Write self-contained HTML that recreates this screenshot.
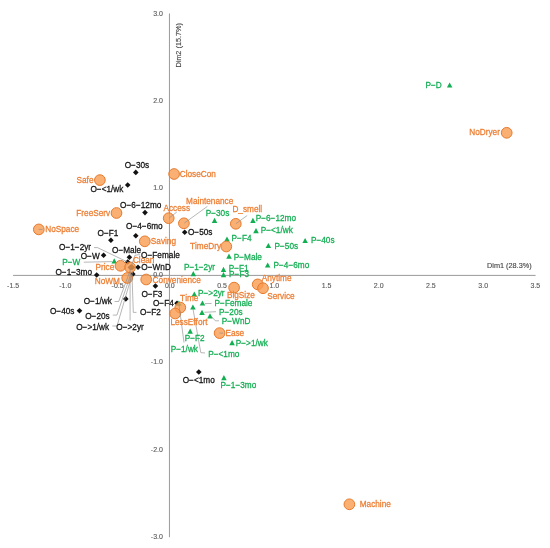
<!DOCTYPE html>
<html lang="en"><head><meta charset="utf-8"><title>MCA biplot</title>
<style>
html,body{margin:0;padding:0;background:#fff;}
body{width:550px;height:548px;overflow:hidden;}
svg{display:block;font-family:"Liberation Sans",Arial,Helvetica,sans-serif;}
.lab{font-size:8.3px;stroke-width:0.25px;font-kerning:none;}
.o{fill:#ED7D31}.g{fill:#12AE52}.k{fill:#111111}
text.o{stroke:#ED7D31}text.g{stroke:#12AE52}text.k{stroke:#111}
.tick{font-size:7px;fill:#595959;stroke:#595959;stroke-width:0.12px;}
.ttl{font-size:7.3px;fill:#444;stroke:#444;stroke-width:0.12px;}
.ax{stroke:#9a9a9a;stroke-width:1;fill:none;}
.ld{stroke:#8e8e8e;stroke-width:0.75;fill:none;stroke-opacity:0.85;}
.c{fill:rgb(249,155,80);fill-opacity:0.8;stroke:#E67A2C;stroke-width:1;}
</style></head><body>
<svg width="550" height="548" viewBox="0 0 550 548">
<rect width="550" height="548" fill="#fff"/>
<line class="ax" x1="13.1" y1="275.4" x2="535.6" y2="275.4"/>
<line class="ax" x1="169.45" y1="13.5" x2="169.45" y2="537.2"/>
<text class="tick" x="13.1" y="287.5" text-anchor="middle">-1.5</text>
<text class="tick" x="65.3" y="287.5" text-anchor="middle">-1.0</text>
<text class="tick" x="117.6" y="287.5" text-anchor="middle">-0.5</text>
<text class="tick" x="169.8" y="287.5" text-anchor="middle">0.0</text>
<text class="tick" x="222.0" y="287.5" text-anchor="middle">0.5</text>
<text class="tick" x="274.3" y="287.5" text-anchor="middle">1.0</text>
<text class="tick" x="326.5" y="287.5" text-anchor="middle">1.5</text>
<text class="tick" x="378.7" y="287.5" text-anchor="middle">2.0</text>
<text class="tick" x="430.9" y="287.5" text-anchor="middle">2.5</text>
<text class="tick" x="483.2" y="287.5" text-anchor="middle">3.0</text>
<text class="tick" x="535.4" y="287.5" text-anchor="middle">3.5</text>
<text class="tick" x="162.9" y="15.6" text-anchor="end">3.0</text>
<text class="tick" x="162.9" y="102.8" text-anchor="end">2.0</text>
<text class="tick" x="162.9" y="190.0" text-anchor="end">1.0</text>
<text class="tick" x="162.9" y="277.2" text-anchor="end">0.0</text>
<text class="tick" x="162.9" y="364.4" text-anchor="end">-1.0</text>
<text class="tick" x="162.9" y="451.6" text-anchor="end">-2.0</text>
<text class="tick" x="162.9" y="538.8" text-anchor="end">-3.0</text>
<text class="ttl" x="487" y="267.6">Dim1 (28.3%)</text>
<text class="ttl" transform="translate(181.3,67.6) rotate(-90)">Dim2 (15.7%)</text>
<path class="k" d="M135.8 169.6l2.8 2.8l-2.8 2.8l-2.8 -2.8z"/>
<path class="k" d="M127.7 182.2l2.8 2.8l-2.8 2.8l-2.8 -2.8z"/>
<path class="k" d="M145.0 209.8l2.8 2.8l-2.8 2.8l-2.8 -2.8z"/>
<path class="k" d="M135.8 233.0l2.8 2.8l-2.8 2.8l-2.8 -2.8z"/>
<path class="k" d="M110.9 237.4l2.8 2.8l-2.8 2.8l-2.8 -2.8z"/>
<path class="k" d="M184.7 229.4l2.8 2.8l-2.8 2.8l-2.8 -2.8z"/>
<path class="k" d="M103.6 252.4l2.8 2.8l-2.8 2.8l-2.8 -2.8z"/>
<path class="k" d="M129.4 254.4l2.8 2.8l-2.8 2.8l-2.8 -2.8z"/>
<path class="k" d="M132.3 264.6l2.8 2.8l-2.8 2.8l-2.8 -2.8z"/>
<path class="k" d="M138.0 264.5l2.8 2.8l-2.8 2.8l-2.8 -2.8z"/>
<path class="k" d="M96.7 272.2l2.8 2.8l-2.8 2.8l-2.8 -2.8z"/>
<path class="k" d="M127.7 259.2l2.8 2.8l-2.8 2.8l-2.8 -2.8z"/>
<path class="k" d="M155.4 283.2l2.8 2.8l-2.8 2.8l-2.8 -2.8z"/>
<path class="k" d="M177.0 300.4l2.8 2.8l-2.8 2.8l-2.8 -2.8z"/>
<path class="k" d="M125.8 296.1l2.8 2.8l-2.8 2.8l-2.8 -2.8z"/>
<path class="k" d="M79.5 308.0l2.8 2.8l-2.8 2.8l-2.8 -2.8z"/>
<path class="k" d="M131.2 264.2l2.8 2.8l-2.8 2.8l-2.8 -2.8z"/>
<path class="k" d="M131.2 264.4l2.8 2.8l-2.8 2.8l-2.8 -2.8z"/>
<path class="k" d="M130.4 264.6l2.8 2.8l-2.8 2.8l-2.8 -2.8z"/>
<path class="k" d="M132.8 271.3l2.8 2.8l-2.8 2.8l-2.8 -2.8z"/>
<path class="k" d="M198.8 369.2l2.8 2.8l-2.8 2.8l-2.8 -2.8z"/>
<path class="g" d="M449.6 82.4L452.4 87.6L446.9 87.6z"/>
<path class="g" d="M214.6 217.7L217.3 222.9L211.8 222.9z"/>
<path class="g" d="M252.9 217.7L255.7 222.9L250.2 222.9z"/>
<path class="g" d="M256.0 228.0L258.8 233.2L253.2 233.2z"/>
<path class="g" d="M227.0 236.4L229.8 241.6L224.2 241.6z"/>
<path class="g" d="M268.4 242.9L271.1 248.1L265.6 248.1z"/>
<path class="g" d="M305.1 237.9L307.9 243.1L302.4 243.1z"/>
<path class="g" d="M229.0 253.6L231.8 258.8L226.2 258.8z"/>
<path class="g" d="M193.3 271.1L196.1 276.3L190.6 276.3z"/>
<path class="g" d="M223.5 266.7L226.2 271.9L220.8 271.9z"/>
<path class="g" d="M223.5 272.0L226.2 277.2L220.8 277.2z"/>
<path class="g" d="M267.7 262.4L270.4 267.6L264.9 267.6z"/>
<path class="g" d="M114.2 258.2L117.0 263.4L111.5 263.4z"/>
<path class="g" d="M194.3 291.4L197.1 296.6L191.6 296.6z"/>
<path class="g" d="M202.4 300.4L205.2 305.6L199.7 305.6z"/>
<path class="g" d="M202.0 309.8L204.8 315.0L199.2 315.0z"/>
<path class="g" d="M210.0 313.2L212.8 318.4L207.2 318.4z"/>
<path class="g" d="M190.2 328.6L192.9 333.8L187.4 333.8z"/>
<path class="g" d="M178.9 300.6L181.7 305.8L176.2 305.8z"/>
<path class="g" d="M192.9 304.4L195.7 309.6L190.2 309.6z"/>
<path class="g" d="M232.1 340.0L234.8 345.2L229.3 345.2z"/>
<path class="g" d="M223.9 375.0L226.7 380.2L221.2 380.2z"/>
<circle class="c" cx="99.9" cy="180.1" r="5.35"/>
<circle class="c" cx="116.5" cy="213.0" r="5.35"/>
<circle class="c" cx="38.8" cy="229.4" r="5.35"/>
<circle class="c" cx="174.1" cy="174.0" r="5.35"/>
<circle class="c" cx="168.7" cy="218.2" r="5.35"/>
<circle class="c" cx="183.9" cy="223.3" r="5.35"/>
<circle class="c" cx="235.8" cy="223.8" r="5.35"/>
<circle class="c" cx="144.8" cy="241.3" r="5.35"/>
<circle class="c" cx="226.3" cy="246.5" r="5.35"/>
<circle class="c" cx="120.5" cy="265.8" r="5.35"/>
<circle class="c" cx="130.1" cy="267.4" r="5.35"/>
<circle class="c" cx="127.2" cy="278.0" r="5.35"/>
<circle class="c" cx="146.2" cy="279.5" r="5.35"/>
<circle class="c" cx="257.7" cy="284.4" r="5.35"/>
<circle class="c" cx="263.0" cy="288.2" r="5.35"/>
<circle class="c" cx="234.1" cy="287.6" r="5.35"/>
<circle class="c" cx="180.3" cy="307.6" r="5.35"/>
<circle class="c" cx="175.2" cy="313.5" r="5.35"/>
<circle class="c" cx="219.6" cy="333.1" r="5.35"/>
<circle class="c" cx="506.7" cy="132.8" r="5.35"/>
<circle class="c" cx="349.4" cy="504.3" r="5.35"/>
<polyline class="ld" points="176.9,211.9 169.2,218.0"/>
<polyline class="ld" points="207.4,206.4 184.3,223.1"/>
<polyline class="ld" points="247.2,215.5 236.0,223.6"/>
<polyline class="ld" points="94.0,247.6 97.5,247.6 127.5,262.0"/>
<polyline class="ld" points="83.8,262.2 112.0,261.6"/>
<polyline class="ld" points="139.8,254.6 135.0,255.2 131.2,266.5"/>
<polyline class="ld" points="114.6,301.5 118.7,301.5 130.0,271.0"/>
<polyline class="ld" points="112.8,315.1 116.9,315.1 131.5,272.0"/>
<polyline class="ld" points="112.3,326.0 117.0,326.0 132.8,272.0"/>
<polyline class="ld" points="130.1,320.5 130.1,268.0"/>
<polyline class="ld" points="136.5,312.4 133.3,312.4 132.0,275.0"/>
<polyline class="ld" points="205.0,303.5 211.6,303.5"/>
<polyline class="ld" points="204.4,312.3 216.0,311.7"/>
<polyline class="ld" points="211.7,316.8 215.4,320.8 219.0,320.8"/>
<polyline class="ld" points="178.9,304.0 184.0,342.5"/>
<polyline class="ld" points="193.0,309.0 200.8,352.6 205.0,353.0"/>
<polyline class="ld" points="219.6,333.1 223.0,333.1"/>
<polyline class="ld" points="38.8,229.4 42.5,229.4"/>
<text class="lab k" transform="translate(124.7,168.3) scale(0.995,1)">O−30s</text>
<text class="lab k" transform="translate(90.4,191.8) scale(0.995,1)">O−&lt;1/wk</text>
<text class="lab k" transform="translate(120.1,208.0) scale(0.995,1)">O−6−12mo</text>
<text class="lab k" transform="translate(126.0,228.9) scale(0.995,1)">O−4−6mo</text>
<text class="lab k" transform="translate(97.6,236.4) scale(0.995,1)">O−F1</text>
<text class="lab k" transform="translate(187.9,235.1) scale(0.995,1)">O−50s</text>
<text class="lab k" transform="translate(80.7,258.6) scale(0.995,1)">O−W</text>
<text class="lab k" transform="translate(112.0,252.7) scale(0.995,1)">O−Male</text>
<text class="lab k" transform="translate(141.1,257.7) scale(0.995,1)">O−Female</text>
<text class="lab k" transform="translate(141.3,269.9) scale(0.995,1)">O−WnD</text>
<text class="lab k" transform="translate(55.4,274.5) scale(0.995,1)">O−1−3mo</text>
<text class="lab k" transform="translate(59.0,250.0) scale(0.995,1)">O−1−2yr</text>
<text class="lab k" transform="translate(141.4,296.5) scale(0.995,1)">O−F3</text>
<text class="lab k" transform="translate(152.9,306.0) scale(0.995,1)">O−F4</text>
<text class="lab k" transform="translate(83.7,304.2) scale(0.995,1)">O−1/wk</text>
<text class="lab k" transform="translate(49.9,313.6) scale(0.995,1)">O−40s</text>
<text class="lab k" transform="translate(85.2,318.7) scale(0.995,1)">O−20s</text>
<text class="lab k" transform="translate(76.2,329.7) scale(0.995,1)">O−&gt;1/wk</text>
<text class="lab k" transform="translate(116.3,329.7) scale(0.995,1)">O−&gt;2yr</text>
<text class="lab k" transform="translate(140.1,315.4) scale(0.995,1)">O−F2</text>
<text class="lab k" transform="translate(182.7,383.0) scale(0.995,1)">O−&lt;1mo</text>
<text class="lab g" transform="translate(425.5,87.5) scale(0.995,1)">P−D</text>
<text class="lab g" transform="translate(205.7,216.0) scale(0.995,1)">P−30s</text>
<text class="lab g" transform="translate(255.7,221.4) scale(0.995,1)">P−6−12mo</text>
<text class="lab g" transform="translate(260.7,233.4) scale(0.995,1)">P−&lt;1/wk</text>
<text class="lab g" transform="translate(231.6,241.4) scale(0.995,1)">P−F4</text>
<text class="lab g" transform="translate(274.5,249.2) scale(0.995,1)">P−50s</text>
<text class="lab g" transform="translate(310.9,243.4) scale(0.995,1)">P−40s</text>
<text class="lab g" transform="translate(233.7,259.8) scale(0.995,1)">P−Male</text>
<text class="lab g" transform="translate(183.9,269.8) scale(0.995,1)">P−1−2yr</text>
<text class="lab g" transform="translate(228.7,271.1) scale(0.995,1)">P−F1</text>
<text class="lab g" transform="translate(229.1,277.4) scale(0.995,1)">P−F3</text>
<text class="lab g" transform="translate(273.5,267.7) scale(0.995,1)">P−4−6mo</text>
<text class="lab g" transform="translate(62.3,265.1) scale(0.995,1)">P−W</text>
<text class="lab g" transform="translate(198.0,295.7) scale(0.995,1)">P−&gt;2yr</text>
<text class="lab g" transform="translate(214.6,305.9) scale(0.995,1)">P−Female</text>
<text class="lab g" transform="translate(219.0,314.6) scale(0.995,1)">P−20s</text>
<text class="lab g" transform="translate(221.8,323.6) scale(0.995,1)">P−WnD</text>
<text class="lab g" transform="translate(184.7,340.8) scale(0.995,1)">P−F2</text>
<text class="lab g" transform="translate(170.7,351.8) scale(0.995,1)">P−1/wk</text>
<text class="lab g" transform="translate(208.2,356.6) scale(0.995,1)">P−&lt;1mo</text>
<text class="lab g" transform="translate(235.8,346.0) scale(0.995,1)">P−&gt;1/wk</text>
<text class="lab g" transform="translate(220.5,388.1) scale(0.995,1)">P−1−3mo</text>
<text class="lab o" transform="translate(76.5,183.2) scale(0.995,1)">Safe</text>
<text class="lab o" transform="translate(76.3,215.9) scale(0.995,1)">FreeServ</text>
<text class="lab o" transform="translate(45.2,232.4) scale(0.995,1)">NoSpace</text>
<text class="lab o" transform="translate(179.7,176.9) scale(0.995,1)">CloseCon</text>
<text class="lab o" transform="translate(163.5,210.7) scale(0.995,1)">Access</text>
<text class="lab o" transform="translate(186.1,203.5) scale(0.995,1)">Maintenance</text>
<text class="lab o" transform="translate(232.4,211.8) scale(0.995,1)">D_smell</text>
<text class="lab o" transform="translate(150.8,243.9) scale(0.995,1)">Saving</text>
<text class="lab o" transform="translate(190.0,249.1) scale(0.995,1)">TimeDry</text>
<text class="lab o" transform="translate(95.5,270.2) scale(0.995,1)">Price</text>
<text class="lab o" transform="translate(132.9,262.8) scale(0.995,1)">Clean</text>
<text class="lab o" transform="translate(94.8,283.8) scale(0.995,1)">NoWM</text>
<text class="lab o" transform="translate(152.6,283.1) scale(0.995,1)">Convenience</text>
<text class="lab o" transform="translate(261.7,280.7) scale(0.995,1)">Anytime</text>
<text class="lab o" transform="translate(267.2,299.0) scale(0.995,1)">Service</text>
<text class="lab o" transform="translate(226.9,297.5) scale(0.995,1)">BigSize</text>
<text class="lab o" transform="translate(180.1,301.3) scale(0.995,1)">Time</text>
<text class="lab o" transform="translate(170.4,324.8) scale(0.995,1)">LessEffort</text>
<text class="lab o" transform="translate(225.4,335.9) scale(0.995,1)">Ease</text>
<text class="lab o" transform="translate(469.2,135.2) scale(0.995,1)">NoDryer</text>
<text class="lab o" transform="translate(359.7,507.0) scale(0.995,1)">Machine</text>
</svg></body></html>
